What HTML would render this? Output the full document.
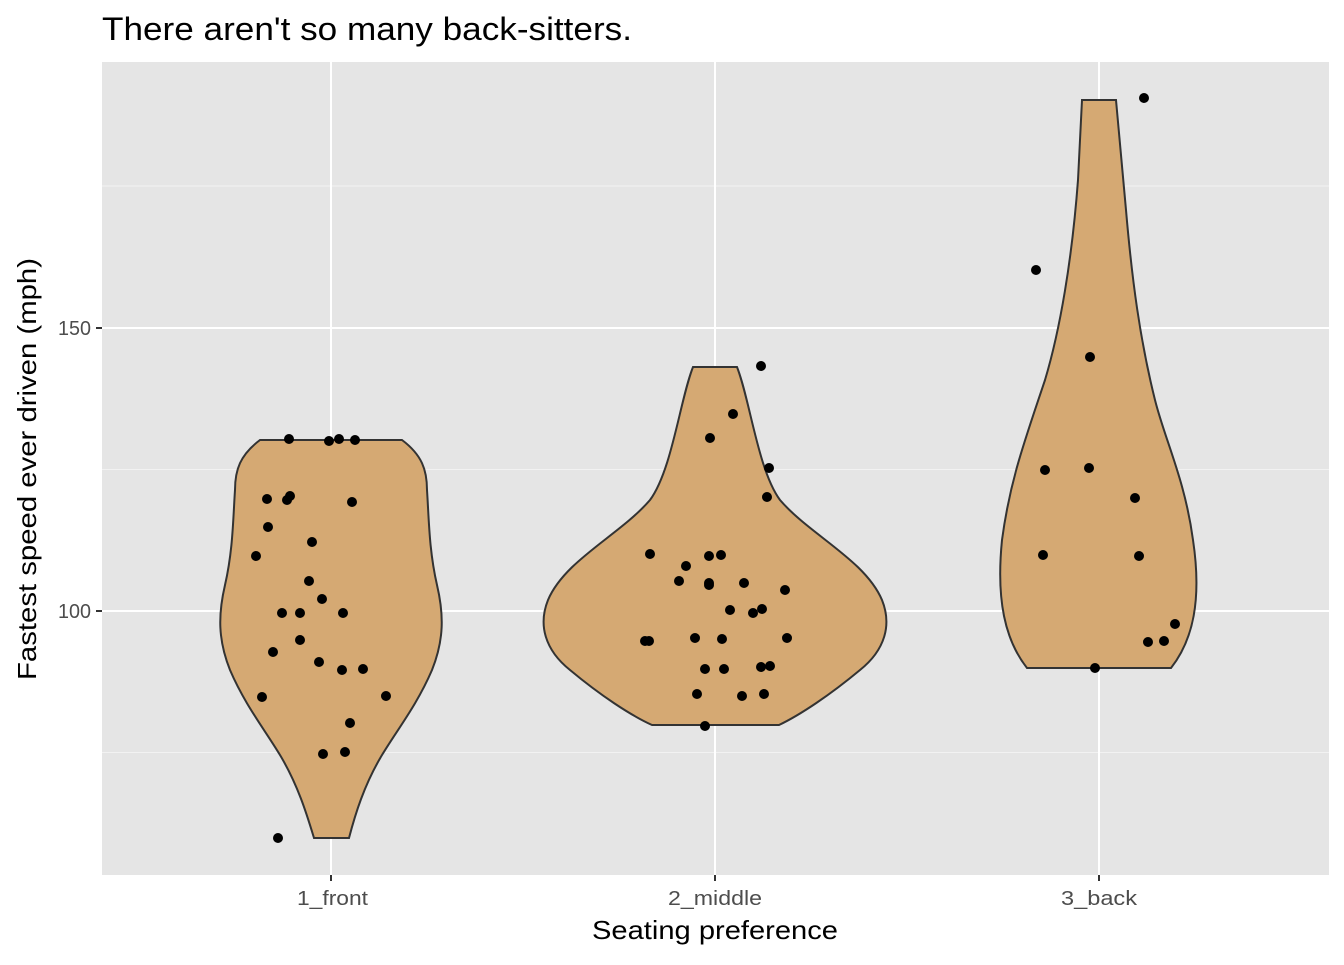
<!DOCTYPE html>
<html><head><style>body{margin:0;background:#fff}</style></head><body>
<svg width="1344" height="960" xmlns="http://www.w3.org/2000/svg" font-family="Liberation Sans, sans-serif">
<rect width="1344" height="960" fill="#fff"/>
<rect x="102" y="62" width="1227" height="813" fill="#e5e5e5"/>
<g stroke="#f2f2f2" stroke-width="1">
<line x1="102" x2="1329" y1="186" y2="186"/><line x1="102" x2="1329" y1="469.5" y2="469.5"/><line x1="102" x2="1329" y1="752.5" y2="752.5"/>
</g>
<g stroke="#fff" stroke-width="2">
<line x1="102" x2="1329" y1="328" y2="328"/><line x1="102" x2="1329" y1="611" y2="611"/>
<line x1="331" x2="331" y1="62" y2="875"/><line x1="715" x2="715" y1="62" y2="875"/><line x1="1099" x2="1099" y1="62" y2="875"/>
</g>
<g fill="#d5a973" stroke="#333" stroke-width="2">
<path d="M260,440 C240,455 235,470 235,490 C233,520 233,550 225,585 C218,615 218,640 230,670 C245,705 265,730 280,755 C298,785 307,815 314,838 L349,838 C355,815 364,785 382,755 C397,730 417,705 432,670 C444,640 444,615 437,585 C429,550 429,520 427,490 C427,470 422,455 402,440 Z"/>
<path d="M693,367 C680,400 672,470 650,500 C620,535 565,560 548,600 C538,625 545,650 570,670 C600,695 630,715 652,725 L779,725 C800,715 830,695 860,670 C885,650 892,625 882,600 C865,560 810,535 780,500 C758,470 750,400 737,367 Z"/>
<path d="M1082,100 L1078,180 C1072,260 1060,330 1045,380 C1025,440 1010,480 1002,540 C996,600 1005,640 1027,668 L1171,668 C1193,640 1202,600 1193,540 C1185,480 1165,440 1155,400 C1140,340 1132,280 1126,210 L1116,100 Z"/>
</g>
<g fill="#000">
<circle cx="289" cy="439" r="5"/><circle cx="329" cy="441" r="5"/><circle cx="339" cy="439" r="5"/><circle cx="355" cy="440" r="5"/><circle cx="267" cy="499" r="5"/><circle cx="290" cy="496" r="5"/><circle cx="287" cy="500" r="5"/><circle cx="352" cy="502" r="5"/><circle cx="268" cy="527" r="5"/><circle cx="312" cy="542" r="5"/><circle cx="256" cy="556" r="5"/><circle cx="309" cy="581" r="5"/><circle cx="322" cy="599" r="5"/><circle cx="282" cy="613" r="5"/><circle cx="300" cy="613" r="5"/><circle cx="343" cy="613" r="5"/><circle cx="273" cy="652" r="5"/><circle cx="300" cy="640" r="5"/><circle cx="319" cy="662" r="5"/><circle cx="342" cy="670" r="5"/><circle cx="363" cy="669" r="5"/><circle cx="262" cy="697" r="5"/><circle cx="386" cy="696" r="5"/><circle cx="350" cy="723" r="5"/><circle cx="323" cy="754" r="5"/><circle cx="345" cy="752" r="5"/><circle cx="278" cy="838" r="5"/>
<circle cx="761" cy="366" r="5"/><circle cx="733" cy="414" r="5"/><circle cx="710" cy="438" r="5"/><circle cx="769" cy="468" r="5"/><circle cx="767" cy="497" r="5"/><circle cx="650" cy="554" r="5"/><circle cx="686" cy="566" r="5"/><circle cx="709" cy="556" r="5"/><circle cx="721" cy="555" r="5"/><circle cx="679" cy="581" r="5"/><circle cx="709" cy="583" r="5"/><circle cx="709" cy="585" r="5"/><circle cx="744" cy="583" r="5"/><circle cx="785" cy="590" r="5"/><circle cx="730" cy="610" r="5"/><circle cx="753" cy="613" r="5"/><circle cx="762" cy="609" r="5"/><circle cx="645" cy="641" r="5"/><circle cx="649" cy="641" r="5"/><circle cx="695" cy="638" r="5"/><circle cx="722" cy="639" r="5"/><circle cx="787" cy="638" r="5"/><circle cx="705" cy="669" r="5"/><circle cx="724" cy="669" r="5"/><circle cx="761" cy="667" r="5"/><circle cx="770" cy="666" r="5"/><circle cx="697" cy="694" r="5"/><circle cx="742" cy="696" r="5"/><circle cx="764" cy="694" r="5"/><circle cx="705" cy="726" r="5"/>
<circle cx="1144" cy="98" r="5"/><circle cx="1036" cy="270" r="5"/><circle cx="1090" cy="357" r="5"/><circle cx="1045" cy="470" r="5"/><circle cx="1089" cy="468" r="5"/><circle cx="1135" cy="498" r="5"/><circle cx="1043" cy="555" r="5"/><circle cx="1139" cy="556" r="5"/><circle cx="1175" cy="624" r="5"/><circle cx="1148" cy="642" r="5"/><circle cx="1164" cy="641" r="5"/><circle cx="1095" cy="668" r="5"/>
</g>
<g stroke="#333" stroke-width="2">
<line x1="96" x2="102" y1="328" y2="328"/><line x1="96" x2="102" y1="611" y2="611"/>
<line x1="331" x2="331" y1="875" y2="881"/><line x1="715" x2="715" y1="875" y2="881"/><line x1="1099" x2="1099" y1="875" y2="881"/>
</g>
<g fill="#4d4d4d" font-size="20">
<text x="91" y="335" text-anchor="end" textLength="33" lengthAdjust="spacingAndGlyphs">150</text><text x="91" y="618" text-anchor="end" textLength="33" lengthAdjust="spacingAndGlyphs">100</text>
<text x="297" y="905" textLength="71" lengthAdjust="spacingAndGlyphs">1_front</text><text x="668" y="905" textLength="94" lengthAdjust="spacingAndGlyphs">2_middle</text><text x="1061" y="905" textLength="76" lengthAdjust="spacingAndGlyphs">3_back</text>
</g>
<text x="592" y="939" font-size="26" fill="#000" textLength="246" lengthAdjust="spacingAndGlyphs">Seating preference</text>
<text transform="translate(36,680) rotate(-90)" font-size="26" fill="#000" textLength="422" lengthAdjust="spacingAndGlyphs">Fastest speed ever driven (mph)</text>
<text x="102" y="40" font-size="32" fill="#000" textLength="530" lengthAdjust="spacingAndGlyphs">There aren't so many back-sitters.</text>
</svg>
</body></html>
